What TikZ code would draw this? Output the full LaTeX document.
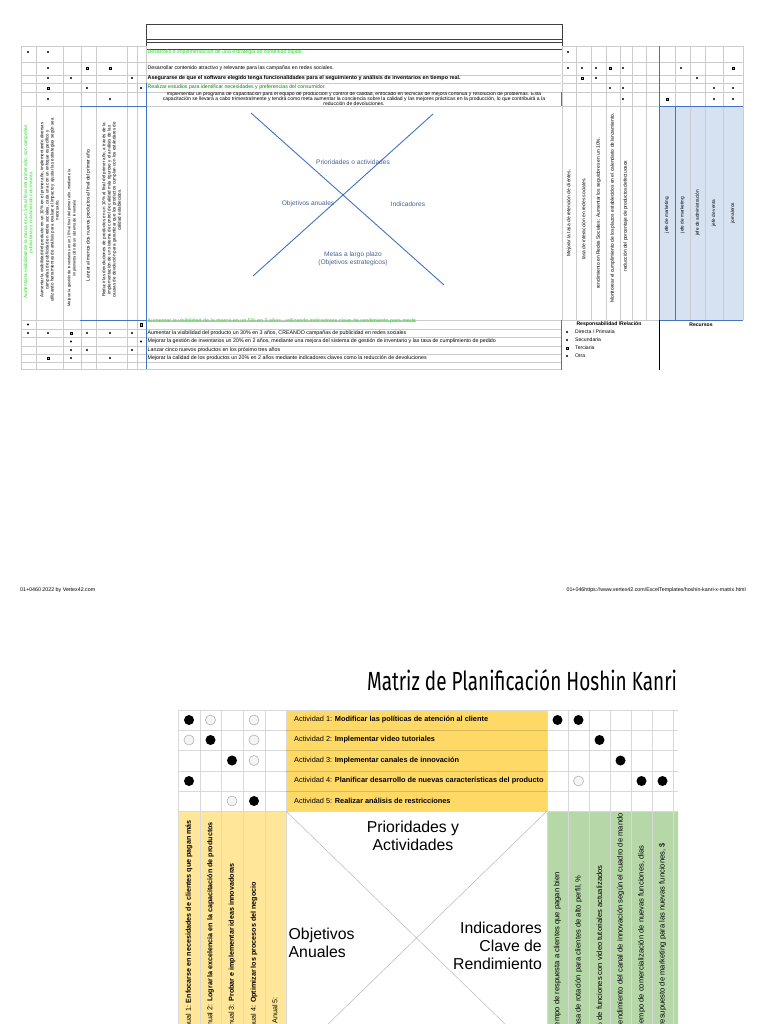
\documentclass[tikz,border=0pt]{standalone}
\usepackage{fontspec}
\setmainfont{Liberation Sans}
\newfontfamily\ttlfont{Fira Sans}
\usetikzlibrary{positioning}
\definecolor{xblue}{RGB}{68,114,196}
\definecolor{lblue}{RGB}{214,225,242}
\definecolor{xgreen}{RGB}{40,215,40}
\definecolor{xlabel}{RGB}{72,98,150}
\definecolor{actyel}{RGB}{255,217,102}
\definecolor{objyel}{RGB}{255,230,153}
\definecolor{kpigrn}{RGB}{182,215,168}
\newcommand{\fsz}[2]{\fontsize{#1}{#2}\selectfont}
\tikzset{
  gridln/.style={draw=gray!40, line width=0.5pt},
  blueln/.style={draw=xblue, line width=0.7pt},
  dotm/.style={circle, fill=black, minimum size=2.2pt, inner sep=0pt},
  sqm/.style={rectangle, draw=black, fill=gray!60, minimum size=2.6pt, inner sep=0pt, line width=0.3pt},
  rowtxt/.style={anchor=west, inner sep=0pt, font=\fsz{5.2}{6}},
  vtxt/.style={rotate=90, inner sep=0pt, align=center, font=\fsz{4.7}{5.4}},
  xlbl/.style={text=xlabel, align=center, inner sep=0pt, font=\fsz{6.6}{7.8}},
  bgrid/.style={draw=gray!30, line width=1pt},
  diag/.style={draw=gray!55, line width=0.5pt},
  acttxt/.style={anchor=west, inner sep=0pt, font=\fsz{7.35}{8.5}},
  ktxt/.style={rotate=90, anchor=east, inner sep=0pt, font=\fsz{7.15}{8.5}},
  bigl/.style={inner sep=0pt, font=\fsz{15.8}{18}},
  fullc/.style={circle, fill=black, minimum size=10pt, inner sep=0pt},
  openc/.style={circle, draw=gray!60, fill=gray!8, minimum size=10pt, inner sep=0pt, line width=0.6pt},
  foot/.style={inner sep=0pt, font=\fsz{5.3}{6}}
}
\begin{document}
\begin{tikzpicture}[x=1pt, y=-1pt]
  \path[use as bounding box, fill=white] (0,0) rectangle (768,1024);

  % ---------- hoja superior (Vertex42) ----------
  \draw[line width=0.9pt, draw=black!75] (146,24) rectangle (562,49);
  \draw[line width=0.6pt, draw=black!75] (146,39) -- (562,39) (146,42) -- (562,42);

  \fill[lblue] (659,106) rectangle (743,320);
  \foreach \x in {21,36,63,81,96,127,137,146}
    \draw[gridln] (\x,46) -- (\x,369);
  \foreach \y in {46,62,75,83,92,106,320,329,337,346,354,362,369}
    \draw[gridln] (21,\y) -- (146,\y);
  \foreach \y in {62,75,83,92,106,320,329,337,346,354,362,369}
    \draw[gridln] (146,\y) -- (561,\y);
  \foreach \x in {562,576,591,606,620,632,646,659,675,690,705,723,743}
    \draw[gridln] (\x,46) -- (\x,320);
  \foreach \y in {46,62,75,83,92,106,320}
    \draw[gridln] (562,\y) -- (743,\y);

  \draw[blueln] (80,106) -- (146,106) (80,320) -- (146,320);
  \draw[blueln] (146,83) -- (146,369);
  \draw[blueln] (561,92) -- (561,106) (561,320) -- (561,370);
  \draw[blueln] (659,46) -- (659,320) (675,106) -- (675,320);
  \draw[blueln] (659,106) -- (743,106) (659,320) -- (743,320);
  \draw[line width=0.8pt] (659,320) -- (659,370);

  % marcas de la parte superior
  \foreach \x/\y [count=\i] in {28/52,48/52,48/68,48/78,71/78,132/78,87/88,141/88,48/99,110/99,
      568/52,568/68,582/68,596/68,623/68,681/68,596/78,697/78,610/88,623/88,714/88,733/88,
      623/99,714/99,733/99,
      28/324.5,28/333,48/333,87/333,110/333,132/333,71/341.5,141/341.5,71/350,87/350,132/350,
      71/358,110/358,567/332,567/340,567/356}
    \node[dotm] (d\i) at (\x,\y) {};
  \foreach \x/\y [count=\i] in {87/68,110/68,48/88,610/68,733/68,582/78,667/99,141/324.5,71/333,48/358,567/348}
    \node[sqm] (s\i) at (\x,\y) {};

  % filas de texto
  \node[rowtxt, text=xgreen] (r1) at (147.5,52) {Desarrollo e implementación de una estrategia de contenido digital.};
  \node[rowtxt] (r2) at (147.5,68) {Desarrollar contenido atractivo y relevante para las campañas en redes sociales.};
  \node[rowtxt, font=\fsz{5.4}{6}\bfseries] (r3) at (147.5,78.5) {Asegurarse de que el software elegido tenga funcionalidades para el seguimiento y análisis de inventarios en tiempo real.};
  \node[rowtxt, text=green!55!black] (r4) at (147.5,87.5) {Realizar estudios para identificar necesidades y preferencias del consumidor.};
  \begin{scope}
    \clip (146,92.6) rectangle (561,108);
    \node[inner sep=0pt, align=center, font=\fsz{5.05}{5.1}] (r5) at (354,99) {Implementar un programa de capacitación para el equipo de producción y control de calidad, enfocado en técnicas de mejora continua y resolución de problemas. Esta\\capacitación se llevará a cabo trimestralmente y tendrá como meta aumentar la conciencia sobre la calidad y las mejores prácticas en la producción, lo que contribuirá a la\\reducción de devoluciones.};
  \end{scope}

  % matriz en X
  \draw[blueln, line width=0.9pt] (251,113) -- (444,285);
  \draw[blueln, line width=0.9pt] (433,114) -- (253,276);
  \node[xlbl] (prio) at (353,162) {Prioridades o actividades};
  \node[xlbl] (obja) at (308,204) {Objetivos anuales};
  \node[xlbl] (indi) at (408,204) {Indicadores};
  \node[xlbl] (meta) at (353,259) {Metas a largo plazo\\(Objetivos estrategicos)};

  % textos verticales
  \node[vtxt, text=xgreen] (v1) at (28.5,212) {Aumentar la visibilidad de la marca en un 5\% al final del primer año, con campañas\\publicitarias y colaborando con marcas.};
  \node[vtxt, font=\fsz{4.4}{5.1}] (v2) at (49.5,210) {Aumentar la visibilidad del producto en un 10\% en el primer año, implementando diversas\\campañas de publicidad en redes sociales, cada una con un enfoque específico y\\utilizando herramientas de análisis para evaluar el impacto y ajustar las estrategias según sea\\necesario.};
  \node[vtxt, font=\fsz{3.9}{5.2}] (v3) at (72,238) {Mejorar la gestión de inventarios en un 10\% al final del primer año, mediante la\\implementación de un sistema de inventario};
  \node[vtxt, font=\fsz{4.8}{5.4}] (v4) at (88.5,215) {Lanzar al menos dos nuevos productos al final del primer año.};
  \node[vtxt, font=\fsz{4.5}{5.2}] (v5) at (111.5,210) {Reducir las devoluciones de productos en un 10\% al final del primer año, a través de la\\implementación de un sistema de control de calidad más riguroso y el análisis de las\\causas de devolución para garantizar que los productos cumplan con los estándares de\\calidad establecidos.};

  \node[vtxt, font=\fsz{4.9}{5.4}] (k1) at (569,213) {Mejorar la tasa de retención de clientes.};
  \node[vtxt, font=\fsz{4.9}{5.4}] (k2) at (583.5,219) {tasa de interacción en redes sociales.};
  \node[vtxt, font=\fsz{4.9}{5.4}] (k3) at (598.5,213) {rendimiento en Redes Sociales: Aumentar los seguidores en un 10\%.};
  \node[vtxt, font=\fsz{4.9}{5.4}] (k4) at (612.5,208) {Monitorear el cumplimiento de los plazos establecidos en el calendario de lanzamiento.};
  \node[vtxt, font=\fsz{4.9}{5.4}] (k5) at (625.5,216) {reducción del porcentaje de productos defectuosos};

  \node[vtxt] (j1) at (667,215) {jefe de marketing};
  \node[vtxt] (j2) at (682.5,215) {jefe de marketing};
  \node[vtxt] (j3) at (697.5,213) {jefe de administración};
  \node[vtxt] (j4) at (714,213) {jefe de venta};
  \node[vtxt] (j5) at (733,213) {jornaleros};

  % filas inferiores
  \node[rowtxt, text=xgreen, font=\fsz{5.4}{6}] (m0) at (147.5,321) {Aumentar la visibilidad de la marca en un 5\% en 3 años , utilizando indicadores clave de rendimiento para medir};
  \draw[gridln, draw=gray!55] (m0.west) -- (m0.east);
  \node[rowtxt, font=\fsz{5.3}{6}] (m1) at (147.5,333) {Aumentar la visibilidad del producto un 30\% en 3 años, CREANDO campañas de publicidad en redes sociales};
  \node[rowtxt, font=\fsz{5.3}{6}] (m2) at (147.5,341.5) {Mejorar la gestión de inventarios un 20\% en 2 años, mediante una mejora del sistema de gestión de inventario y las tasa de cumplimiento de pedido};
  \node[rowtxt, font=\fsz{5.3}{6}] (m3) at (147.5,350) {Lanzar cinco nuevos productos en los próximo tres años};
  \node[rowtxt, font=\fsz{5.3}{6}] (m4) at (147.5,358) {Mejorar la calidad de los productos un 20\% en 2 años mediante indicadores claves como la reducción de devoluciones};

  % leyenda
  \node[inner sep=0pt, font=\fsz{5.1}{6}\bfseries] (lg0) at (609,324.5) {Responsabilidad /Relación};
  \node[inner sep=0pt, font=\fsz{5.1}{6}\bfseries] (lg5) at (701,324.5) {Recursos};
  \node[rowtxt, font=\fsz{5.1}{6}] (lg1) at (575,332) {Directa / Primaria};
  \node[rowtxt, font=\fsz{5.1}{6}] (lg2) at (575,340) {Secundaria};
  \node[rowtxt, font=\fsz{5.1}{6}] (lg3) at (575,348) {Terciaria};
  \node[rowtxt, font=\fsz{5.1}{6}] (lg4) at (575,356) {Otra};

  % pie de página
  \node[foot, anchor=west] (ftl) at (20,590) {01+0460 2022 by Vertex42.com};
  \node[foot, anchor=east] (ftr) at (746,590) {01+046https://www.vertex42.com/ExcelTemplates/hoshin-kanri-x-matrix.html};

  % ---------- imagen inferior ----------
  \node[anchor=base, inner sep=0pt] (title) at (522,690)
    {\resizebox{310pt}{21pt}{\ttlfont Matriz de Planificación Hoshin Kanri}};

  \begin{scope}
    \clip (160,700) rectangle (678,1024);
    \fill[actyel] (286,710) rectangle (547,811);
    \fill[objyel] (178,811) rectangle (286,1080);
    \fill[kpigrn] (547,811) rectangle (700,1080);
    \foreach \x in {178,200,221,243,265,286,547,568,589,610,631,652,673,694}
      \draw[bgrid] (\x,710) -- (\x,1080);
    \foreach \y in {710,730,750,771,791,811}
      \draw[bgrid] (178,\y) -- (700,\y);
    \foreach \y in {730,750,771,791}
      \draw[draw=actyel!85!black, line width=0.4pt] (286,\y) -- (547,\y);
    \draw[diag] (286,811) -- (547,1065);
    \draw[diag] (547,811) -- (286,1065);

    \foreach \x/\y [count=\i] in {189/720,557.5/720,578.5/720,210.5/740,599.5/740,232/760.5,620.5/760.5,
        189/781,641.5/781,662.5/781,683.5/781,254/801}
      \node[fullc] (fc\i) at (\x,\y) {};
    \foreach \x/\y [count=\i] in {210.5/720,254/720,189/740,254/740,254/760.5,683.5/760.5,578.5/781,232/801}
      \node[openc] (oc\i) at (\x,\y) {};

    \node[acttxt] (a1) at (294,720) {Actividad 1: \textbf{Modificar las políticas de atención al cliente}};
    \node[acttxt] (a2) at (294,740) {Actividad 2: \textbf{Implementar video tutoriales}};
    \node[acttxt] (a3) at (294,760.5) {Actividad 3: \textbf{Implementar canales de innovación}};
    \node[acttxt] (a4) at (294,781) {Actividad 4: \textbf{Planificar desarrollo de nuevas características del producto}};
    \node[acttxt] (a5) at (294,801) {Actividad 5: \textbf{Realizar análisis de restricciones}};

    \node[ktxt] (o1) at (189,820) {Objetivo Anual 1: \textbf{Enfocarse en necesidades de clientes que pagan más}};
    \node[ktxt] (o2) at (210.5,822) {Objetivo Anual 2: \textbf{Lograr la excelencia en la capacitación de productos}};
    \node[ktxt] (o3) at (232,863) {Objetivo Anual 3: \textbf{Probar e implementar ideas innovadoras}};
    \node[ktxt] (o4) at (254,882) {Objetivo Anual 4: \textbf{Optimizar los procesos del negocio}};
    \node[ktxt] (o5) at (275.5,997) {Objetivo Anual 5:};

    \node[ktxt, font=\fsz{7.6}{8.5}] (i1) at (557.5,872) {Tiempo de respuesta a clientes que pagan bien};
    \node[ktxt, font=\fsz{7.6}{8.5}] (i2) at (578.5,875) {Tasa de rotación para clientes de alto perfil, \%};
    \node[ktxt, font=\fsz{7.6}{8.5}] (i3) at (599.5,865) {\% de funciones con video tutoriales actualizados};
    \node[ktxt, font=\fsz{7.6}{8.5}] (i4) at (620.5,813) {Rendimiento del canal de innovación según el cuadro de mando};
    \node[ktxt, font=\fsz{7.6}{8.5}] (i5) at (641.5,845) {Tiempo de comercialización de nuevas funciones, días};
    \node[ktxt, font=\fsz{7.6}{8.5}] (i6) at (662.5,843) {Presupuesto de marketing para las nuevas funciones, \$};

    \node[bigl, align=center] (prio2) at (413,836) {Prioridades y\\Actividades};
    \node[bigl, align=left, anchor=west] (obj2) at (288.5,943) {Objetivos\\Anuales};
    \node[bigl, align=right, anchor=east] (kpi2) at (542,946) {Indicadores\\Clave de\\Rendimiento};
  \end{scope}
\end{tikzpicture}
\end{document}
